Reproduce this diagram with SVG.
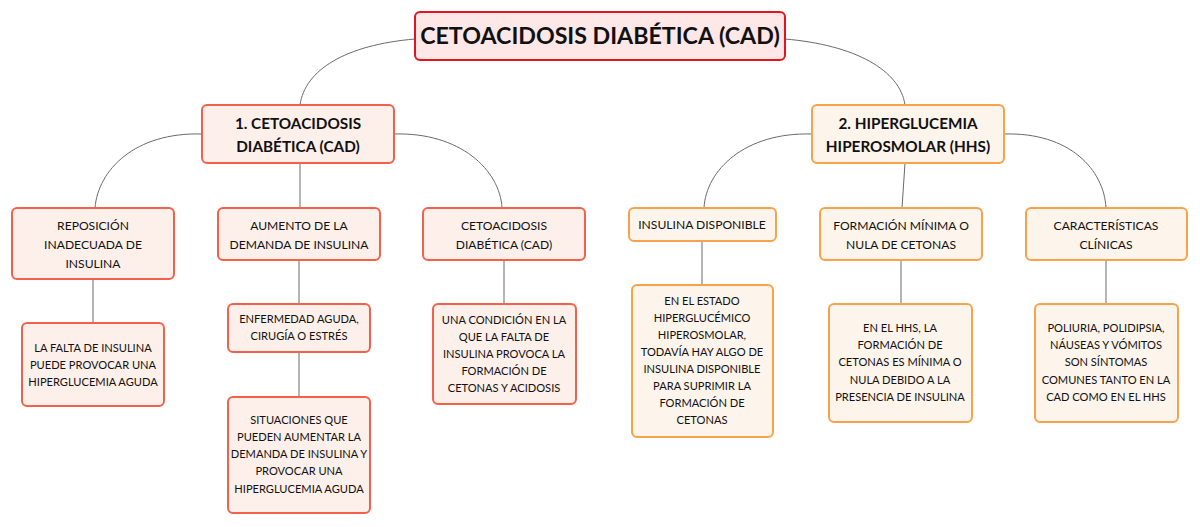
<svg xmlns="http://www.w3.org/2000/svg" width="1200" height="527" viewBox="0 0 1200 527">
<style>
.red{fill:#fdefea;stroke:#f4604a;stroke-width:2}
.org{fill:#fdf4eb;stroke:#f9a24c;stroke-width:2}
.root{fill:#fde7e7;stroke:#e3141e;stroke-width:2}
text{font-family:Lato,"Open Sans",sans-serif;fill:#111;text-anchor:middle}
.t3{font-size:11.1px}
.t2{font-size:12.1px}
.t1{font-size:15.3px;font-weight:bold}
.t0{font-size:23.2px;font-weight:bold}
.c{fill:none;stroke:#6a6a6a;stroke-width:1}
</style>
<rect width="1200" height="527" fill="#fff"/>
<g id="connectors">
<path class="c" d="M415,39 C345,45 305,70 300,105"/>
<path class="c" d="M785,39 C855,45 900,70 905,105"/>
<path class="c" d="M202,134 C135,132 98,170 95,208"/>
<path class="c" d="M300,163 L300,208"/>
<path class="c" d="M394,134 C460,132 500,170 502,208"/>
<path class="c" d="M812,134 C745,132 706,170 704,208"/>
<path class="c" d="M905,163 L902,208"/>
<path class="c" d="M1004,134 C1070,132 1104,170 1106,208"/>
<path class="c" d="M93,279 L93,323"/>
<path class="c" d="M299,260 L299,304"/>
<path class="c" d="M299,352 L299,397"/>
<path class="c" d="M504,260 L504,304"/>
<path class="c" d="M702,241 L702,285"/>
<path class="c" d="M901,260 L901,304"/>
<path class="c" d="M1106,260 L1106,304"/>
</g>
<g id="root">
<rect class="root" x="415" y="12" width="370" height="48" rx="5"/>
<text class="t0" x="600" y="44">CETOACIDOSIS DIABÉTICA (CAD)</text>
</g>
<g id="cad">
<rect class="red" x="202" y="105" width="192" height="58" rx="5"/>
<text class="t1" x="298" y="129">1. CETOACIDOSIS</text>
<text class="t1" x="298" y="152">DIABÉTICA (CAD)</text>
</g>
<g id="hhs">
<rect class="org" x="812" y="105" width="192" height="58" rx="5"/>
<text class="t1" x="908" y="129">2. HIPERGLUCEMIA</text>
<text class="t1" x="908" y="152">HIPEROSMOLAR (HHS)</text>
</g>
<g id="reposicion">
<rect class="red" x="12" y="208" width="162" height="71" rx="5"/>
<text class="t2" x="93" y="230">REPOSICIÓN</text>
<text class="t2" x="93" y="249">INADECUADA DE</text>
<text class="t2" x="93" y="268">INSULINA</text>
</g>
<g id="aumento">
<rect class="red" x="218" y="208" width="162" height="52" rx="5"/>
<text class="t2" x="299" y="230">AUMENTO DE LA</text>
<text class="t2" x="299" y="249">DEMANDA DE INSULINA</text>
</g>
<g id="cetoacidosis">
<rect class="red" x="423" y="208" width="162" height="52" rx="5"/>
<text class="t2" x="504" y="230">CETOACIDOSIS</text>
<text class="t2" x="504" y="249">DIABÉTICA (CAD)</text>
</g>
<g id="insulina">
<rect class="org" x="629" y="208" width="147" height="33" rx="5"/>
<text class="t2" x="702" y="229">INSULINA DISPONIBLE</text>
</g>
<g id="formacion">
<rect class="org" x="820" y="208" width="162" height="52" rx="5"/>
<text class="t2" x="901" y="230">FORMACIÓN MÍNIMA O</text>
<text class="t2" x="901" y="249">NULA DE CETONAS</text>
</g>
<g id="caracteristicas">
<rect class="org" x="1026" y="208" width="161" height="52" rx="5"/>
<text class="t2" x="1106" y="230">CARACTERÍSTICAS</text>
<text class="t2" x="1106" y="249">CLÍNICAS</text>
</g>
<g id="falta">
<rect class="red" x="22" y="323" width="142" height="83" rx="5"/>
<text class="t3" x="93" y="352">LA FALTA DE INSULINA</text>
<text class="t3" x="93" y="369">PUEDE PROVOCAR UNA</text>
<text class="t3" x="93" y="386">HIPERGLUCEMIA AGUDA</text>
</g>
<g id="enfermedad">
<rect class="red" x="228" y="304" width="142" height="48" rx="5"/>
<text class="t3" x="299" y="323">ENFERMEDAD AGUDA,</text>
<text class="t3" x="299" y="340">CIRUGÍA O ESTRÉS</text>
</g>
<g id="situaciones">
<rect class="red" x="228" y="397" width="142" height="116" rx="5"/>
<text class="t3" x="299" y="424">SITUACIONES QUE</text>
<text class="t3" x="299" y="441">PUEDEN AUMENTAR LA</text>
<text class="t3" x="299" y="458">DEMANDA DE INSULINA Y</text>
<text class="t3" x="299" y="475">PROVOCAR UNA</text>
<text class="t3" x="299" y="493">HIPERGLUCEMIA AGUDA</text>
</g>
<g id="condicion">
<rect class="red" x="433" y="304" width="143" height="100" rx="5"/>
<text class="t3" x="504" y="324">UNA CONDICIÓN EN LA</text>
<text class="t3" x="504" y="341">QUE LA FALTA DE</text>
<text class="t3" x="504" y="358">INSULINA PROVOCA LA</text>
<text class="t3" x="504" y="375">FORMACIÓN DE</text>
<text class="t3" x="504" y="392">CETONAS Y ACIDOSIS</text>
</g>
<g id="estado">
<rect class="org" x="632" y="285" width="141" height="152" rx="5"/>
<text class="t3" x="702" y="305">EN EL ESTADO</text>
<text class="t3" x="702" y="322">HIPERGLUCÉMICO</text>
<text class="t3" x="702" y="339">HIPEROSMOLAR,</text>
<text class="t3" x="702" y="356">TODAVÍA HAY ALGO DE</text>
<text class="t3" x="702" y="373">INSULINA DISPONIBLE</text>
<text class="t3" x="702" y="390">PARA SUPRIMIR LA</text>
<text class="t3" x="702" y="407">FORMACIÓN DE</text>
<text class="t3" x="702" y="424">CETONAS</text>
</g>
<g id="hhs_formacion">
<rect class="org" x="829" y="304" width="143" height="118" rx="5"/>
<text class="t3" x="900" y="332">EN EL HHS, LA</text>
<text class="t3" x="900" y="349">FORMACIÓN DE</text>
<text class="t3" x="900" y="366">CETONAS ES MÍNIMA O</text>
<text class="t3" x="900" y="384">NULA DEBIDO A LA</text>
<text class="t3" x="900" y="401">PRESENCIA DE INSULINA</text>
</g>
<g id="poliuria">
<rect class="org" x="1035" y="304" width="143" height="118" rx="5"/>
<text class="t3" x="1106" y="332">POLIURIA, POLIDIPSIA,</text>
<text class="t3" x="1106" y="349">NÁUSEAS Y VÓMITOS</text>
<text class="t3" x="1106" y="366">SON SÍNTOMAS</text>
<text class="t3" x="1106" y="384">COMUNES TANTO EN LA</text>
<text class="t3" x="1106" y="401">CAD COMO EN EL HHS</text>
</g>
</svg>
